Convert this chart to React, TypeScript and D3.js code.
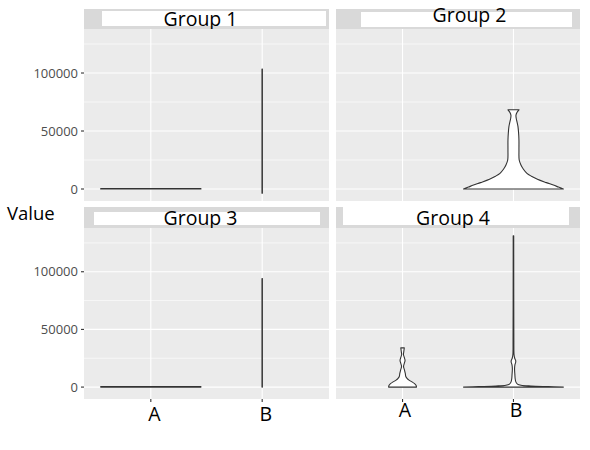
import React from 'react';
import * as d3 from 'd3';

type Pt = [number, number];

const groups = ['Group 1', 'Group 2', 'Group 3', 'Group 4'];
const categories = ['A', 'B'];
const yTicks = [0, 50000, 100000];
const yMinorTicks = [25000, 75000, 125000];

// violin outlines: [value, relative half-width]
const group1A: Pt[] = [[0, 1], [400, 1]];
const group1B: Pt[] = [[-3600, 0.004], [103400, 0.004]];
const group2B: Pt[] = [
  [0, 1.0], [1700, 0.9], [3400, 0.8], [5500, 0.66], [8400, 0.48], [11000, 0.36],
  [13500, 0.27], [17000, 0.2], [20700, 0.15], [25000, 0.115], [33000, 0.11],
  [42000, 0.11], [50000, 0.1], [54000, 0.09], [58000, 0.07], [61000, 0.055],
  [63500, 0.05], [66000, 0.07], [68300, 0.11],
];
const group3A: Pt[] = [[0, 1], [400, 1]];
const group3B: Pt[] = [[0, 0.004], [94000, 0.004]];
const group4A: Pt[] = [
  [0, 0.28], [1500, 0.27], [3000, 0.24], [4500, 0.19], [6000, 0.13], [7500, 0.09],
  [9200, 0.065], [11800, 0.055], [15300, 0.035], [17900, 0.02], [20500, 0.035],
  [23100, 0.05], [25700, 0.035], [28300, 0.018], [30800, 0.025], [34000, 0.035],
];
const group4B: Pt[] = [
  [0, 1], [400, 0.7], [900, 0.35], [1600, 0.15], [2600, 0.08], [4300, 0.05],
  [7000, 0.035], [11000, 0.028], [16000, 0.022], [19500, 0.03], [21500, 0.045],
  [23000, 0.045], [25000, 0.025], [28000, 0.012], [40000, 0.008], [80000, 0.006],
  [131200, 0.005],
];

const violins = [
  { group: 'Group 1', cat: 'A', profile: group1A },
  { group: 'Group 1', cat: 'B', profile: group1B },
  { group: 'Group 2', cat: 'B', profile: group2B },
  { group: 'Group 3', cat: 'A', profile: group3A },
  { group: 'Group 3', cat: 'B', profile: group3B },
  { group: 'Group 4', cat: 'A', profile: group4A },
  { group: 'Group 4', cat: 'B', profile: group4B },
];

// layout
const cols = [{ x0: 84, x1: 329 }, { x0: 336, x1: 580 }];
const rows = [
  { s0: 9, p0: 29, p1: 201 },
  { s0: 207, p0: 228, p1: 399 },
];
const stripBoxes = [
  { x0: 102, x1: 326, y0: 11, y1: 26, tx: 200.5, ty: 25.5 },
  { x0: 361, x1: 572, y0: 12, y1: 27, tx: 469.5, ty: 21.5 },
  { x0: 94, x1: 320, y0: 212, y1: 225, tx: 200.5, ty: 224.5 },
  { x0: 343, x1: 569, y0: 207, y1: 225, tx: 453, ty: 224.5 },
];
const xLabelPos = [{ dy: 421, dx: 3.5 }, { dy: 417, dx: 2.5 }];
const font = "'Open Sans', 'DejaVu Sans', sans-serif";

const allVals = violins.flatMap(v => v.profile.map(p => p[0]));
const [vMin, vMax] = d3.extent(allVals) as [number, number];
const pad = (vMax - vMin) * 0.05;
const yDomain = [vMin - pad, vMax + pad];

const Panel: React.FC<{ idx: number }> = ({ idx }) => {
  const col = cols[idx % 2];
  const row = rows[Math.floor(idx / 2)];
  const group = groups[idx];
  const box = stripBoxes[idx];
  const x = d3.scalePoint<string>().domain(categories).range([col.x0, col.x1]).padding(0.6);
  const y = d3.scaleLinear().domain(yDomain).range([row.p1, row.p0]);
  const w = d3.scaleLinear().domain([0, 1]).range([0, x.step() * 0.45]);
  const isLeft = idx % 2 === 0;
  const isBottom = idx >= 2;

  return (
    <g>
      <rect x={col.x0} y={row.s0} width={col.x1 - col.x0} height={row.p0 - row.s0} fill="#d9d9d9" />
      <rect x={box.x0} y={box.y0} width={box.x1 - box.x0} height={box.y1 - box.y0} fill="#fff" />
      <text x={box.tx} y={box.ty} textAnchor="middle" fontFamily={font} fontSize={19.5} fill="#000">
        {group}
      </text>
      <rect x={col.x0} y={row.p0} width={col.x1 - col.x0} height={row.p1 - row.p0} fill="#ebebeb" />
      {yMinorTicks.map(t => (
        <line key={'m' + t} x1={col.x0} x2={col.x1} y1={y(t)} y2={y(t)} stroke="#fff" strokeWidth={0.6} />
      ))}
      {yTicks.map(t => (
        <line key={'g' + t} x1={col.x0} x2={col.x1} y1={y(t)} y2={y(t)} stroke="#fff" strokeWidth={1.1} />
      ))}
      {categories.map(c => (
        <line key={'gx' + c} x1={x(c)} x2={x(c)} y1={row.p0} y2={row.p1} stroke="#fff" strokeWidth={1.1} />
      ))}
      {violins
        .filter(v => v.group === group)
        .map(v => {
          const cx = x(v.cat)!;
          const area = d3
            .area<Pt>()
            .y(d => y(d[0]))
            .x0(d => cx - w(d[1]))
            .x1(d => cx + w(d[1]))
            .curve(d3.curveCatmullRom.alpha(0.5));
          return (
            <path key={v.cat} d={area(v.profile) || ''} fill="#fff" stroke="#333" strokeWidth={1.1} strokeLinejoin="round" />
          );
        })}
      {isLeft &&
        yTicks.map(t => (
          <g key={'yt' + t}>
            <line x1={col.x0 - 3} x2={col.x0} y1={y(t)} y2={y(t)} stroke="#333" strokeWidth={1.1} />
            <text x={col.x0 - 6} y={y(t)} dy="0.35em" textAnchor="end" fontFamily={font} fontSize={13} fill="#4d4d4d">
              {t}
            </text>
          </g>
        ))}
      {isBottom &&
        categories.map(c => (
          <g key={'xt' + c}>
            <line x1={x(c)} x2={x(c)} y1={row.p1} y2={row.p1 + 3} stroke="#333" strokeWidth={1.1} />
            <text x={x(c)! + xLabelPos[idx % 2].dx} y={xLabelPos[idx % 2].dy} textAnchor="middle" fontFamily={font} fontSize={19.5} fill="#000">
              {c}
            </text>
          </g>
        ))}
    </g>
  );
};

const App: React.FC = () => (
  <svg width={590} height={450} style={{ position: 'absolute', left: 0, top: 0, background: '#fff' }}>
    <rect width={590} height={450} fill="#fff" />
    {groups.map((g, i) => (
      <Panel key={g} idx={i} />
    ))}
    <text x={7} y={220} fontFamily={font} fontSize={18.5} fill="#000">
      Value
    </text>
  </svg>
);

export default App;
